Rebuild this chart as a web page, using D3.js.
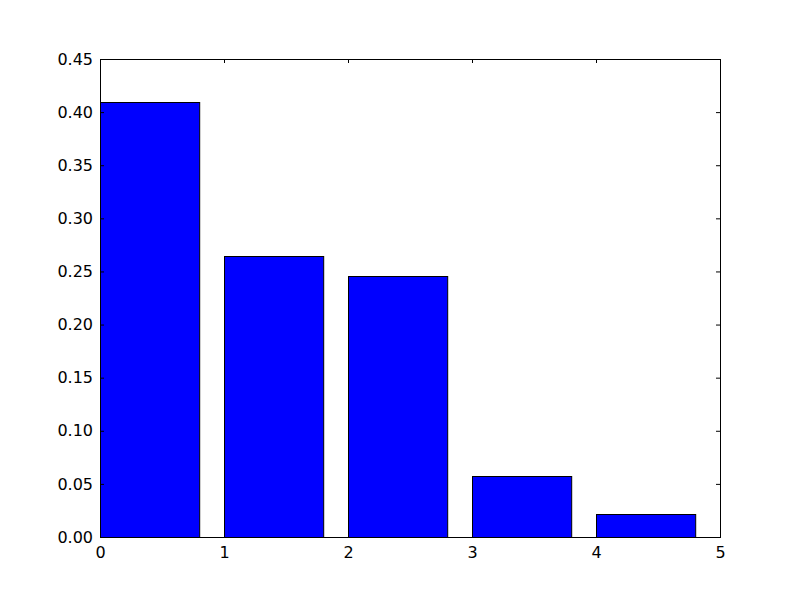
<!DOCTYPE html>
<html><head><meta charset="utf-8">
<script src="https://cdn.jsdelivr.net/npm/d3@7"></script>
<style>body{margin:0;background:#fff}svg{display:block}text{font-family:"DejaVu Sans";font-size:16px;fill:#000}</style>
</head><body><svg id="c" width="800" height="597"></svg>
<script>
const categories = [0, 1, 2, 3, 4];
const values = [0.4095, 0.2645, 0.2457, 0.0575, 0.0217];
const xTicks = [0, 1, 2, 3, 4, 5];
const yTicks = [0, 0.05, 0.10, 0.15, 0.20, 0.25, 0.30, 0.35, 0.40, 0.45];
const barWidth = 0.8;

const svg = d3.select("#c");
const L = 100, R = 720, T = 59, B = 537;
const x = d3.scaleLinear().domain([0, 5]).range([L, R]);
const y = d3.scaleLinear().domain([0, 0.45]).range([B, T]);

svg.selectAll("rect.bar").data(categories).enter().append("rect")
  .attr("class", "bar")
  .attr("x", d => x(d) + 0.5)
  .attr("y", (d, i) => Math.round(y(values[i])) + 0.5)
  .attr("width", x(barWidth) - x(0))
  .attr("height", (d, i) => B - Math.round(y(values[i])))
  .attr("fill", "#0000ff").attr("stroke", "#000").attr("stroke-width", 1);

const fmt = d3.format(".2f");
const axB = d3.axisBottom(x).tickValues(xTicks).tickFormat(d3.format("d")).tickSizeInner(-4).tickSizeOuter(0).tickPadding(10);
const axT = d3.axisTop(x).tickValues(xTicks).tickFormat("").tickSizeInner(-4).tickSizeOuter(0);
const axL = d3.axisLeft(y).tickValues(yTicks).tickFormat(fmt).tickSizeInner(-4).tickSizeOuter(0).tickPadding(7);
const axR = d3.axisRight(y).tickValues(yTicks).tickFormat("").tickSizeInner(-4).tickSizeOuter(0);

function style(g){ g.select(".domain").remove(); g.selectAll("line").attr("stroke","#000"); g.selectAll("text").attr("fill","#000").style("font-size","16px").style("font-family","DejaVu Sans"); }
svg.append("g").attr("transform", `translate(0,${B})`).call(axB).call(style);
svg.append("g").attr("transform", `translate(0,${T})`).call(axT).call(style);
svg.append("g").attr("transform", `translate(${L},0)`).call(axL).call(style);
svg.append("g").attr("transform", `translate(${R},0)`).call(axR).call(style);

svg.append("rect").attr("x", L + 0.5).attr("y", T + 0.5).attr("width", R - L).attr("height", B - T)
  .attr("fill", "none").attr("stroke", "#000").attr("stroke-width", 1);
</script></body></html>
